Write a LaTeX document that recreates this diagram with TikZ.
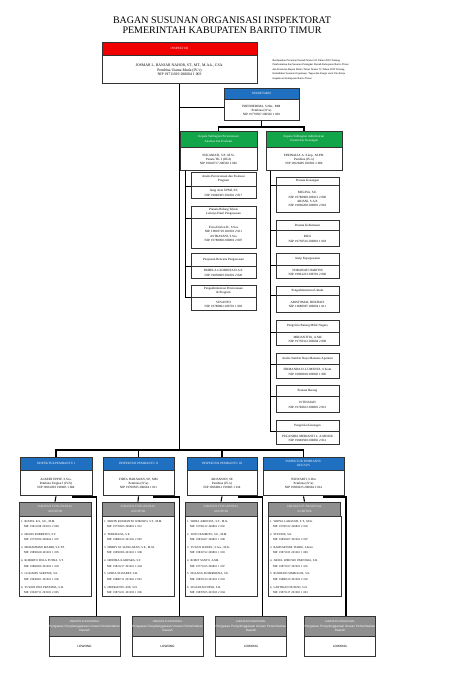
\documentclass[tikz,border=0pt]{standalone}
\usepackage{fontspec}
\setmainfont{Liberation Serif}
\setsansfont{Liberation Sans}
\usetikzlibrary{positioning}
\definecolor{insred}{HTML}{F00000}
\definecolor{pemblue}{HTML}{1F70C1}
\definecolor{subgreen}{HTML}{12A54A}
\definecolor{jfgray}{HTML}{8F8F8F}
\definecolor{boxline}{HTML}{333333}
\newcommand{\bxfont}{\fontsize{3.8}{4.7}\selectfont}
\newcommand{\smfont}{\fontsize{3.2}{4.3}\selectfont}
\newcommand{\lsfont}{\fontsize{2.9}{5.3}\selectfont}
\newcommand{\ntfont}{\fontsize{2.7}{4.4}\selectfont}

\begin{document}
\begin{tikzpicture}[x=1pt,y=-1pt,
  hdr/.style={draw=boxline, line width=0.9pt, inner sep=0pt, align=center, font=\smfont},
  bdy/.style={draw=boxline, line width=0.9pt, fill=white, inner sep=0pt, align=center, font=\smfont},
  lst/.style={draw=boxline, line width=0.9pt, fill=white, inner xsep=2pt, inner ysep=0pt, align=left, font=\lsfont},
  edge/.style={line width=1.1pt},
  lab/.style={font=\fontsize{10}{10.4}\selectfont, align=center}]
\useasboundingbox (0,0) rectangle (474,678);
%%%%%%%%%%%%%%%%%%%%%%%%%%%%%%%%%%%%%%%%%%%%%%%%%%
% title and inspektur
%%%%%%%%%%%%%%%%%%%%%%%%%%%%%%%%%%%%%%%%%%%%%%%%%%
\node[lab] (title) at (222,25) {BAGAN SUSUNAN ORGANISASI INSPEKTORAT\\PEMERINTAH KABUPATEN BARITO TIMUR};

\node[hdr, fill=insred, text=white, minimum width=155, minimum height=13] (insh) at (179.5,48.5) {INSPEKTUR};
\node[bdy, font=\bxfont, minimum width=155, minimum height=28, below=0pt of insh] (insb)
  {JOSMAR L. BANJAR NAHOR, ST., MT., M.A.k., CSA.\\Pembina Utama Muda (IV/c)\\NIP 19711019 200604 1 003};

\node[font=\ntfont, align=left, anchor=north west] (note) at (269,56)
  {Berdasarkan Peraturan Daerah Nomor 03 Tahun 2020 Tentang\\
   Pembentukan dan Susunan Perangkat Daerah Kabupaten Barito Timur\\
   dan Peraturan Bupati Barito Timur Nomor 51 Tahun 2020 Tentang\\
   Kedudukan Susunan Organisasi, Tugas dan Fungsi serta Tata Kerja\\
   Inspektorat Kabupaten Barito Timur};
%%%%%%%%%%%%%%%%%%%%%%%%%%%%%%%%%%%%%%%%%%%%%%%%%%
% sekretariat
%%%%%%%%%%%%%%%%%%%%%%%%%%%%%%%%%%%%%%%%%%%%%%%%%%
\begin{scope}
  \node[hdr, fill=pemblue, text=white, minimum width=75, minimum height=11] (sekh) at (261.5,93.5) {SEKRETARIS};
  \node[bdy, minimum width=75, minimum height=21, below=0pt of sekh] (sekb)
    {PRENDEDIMA, S.Hut., MM\\Pembina (IV/a)\\NIP 19770507 200502 1 003};

  \node[hdr, fill=subgreen, text=white, minimum width=77, minimum height=16] (g1h) at (218.5,139)
    {Kepala Subbagian Perencanaan\\Analisis dan Evaluasi};
  \node[bdy, minimum width=77, minimum height=23, below=0pt of g1h] (g1b)
    {SUKANIATI, S.P., M.Si.\\Penata TK. I (III/d)\\NIP 19620717 200502 2 002};
  \node[hdr, fill=subgreen, text=white, minimum width=76, minimum height=16] (g2h) at (304,139)
    {Kepala Subbagian Administrasi\\Umum dan Keuangan};
  \node[bdy, minimum width=76, minimum height=23, below=0pt of g2h] (g2b)
    {EPRINALIA A. S.kep., M.P.H.\\Pembina (IV/a)\\NIP 19620405 200502 2 006};

  \coordinate (sj) at (261.5,127);
  \draw[edge] ([yshift=3pt]sekb.west) -- ([yshift=3pt]sekb.west -| insb.south);
  \draw[edge] (sekb.south) -- (sj);
  \draw[edge] (g1h.north) |- (sj) -| (g2h.north);
\end{scope}
%%%%%%%%%%%%%%%%%%%%%%%%%%%%%%%%%%%%%%%%%%%%%%%%%%
% perencanaan (left column)
%%%%%%%%%%%%%%%%%%%%%%%%%%%%%%%%%%%%%%%%%%%%%%%%%%
\begin{scope}
  \node[hdr, minimum width=65, minimum height=14] (l1h) at (223.5,179) {Analis Perencanaan dan Evaluasi\\Program};
  \node[bdy, minimum width=65, minimum height=12, below=0pt of l1h] (l1b) {Jiang Anie UPMI, SE\\NIP. 19840305 201001 2 017};

  \node[hdr, minimum width=65, minimum height=12] (l2h) at (223.5,212) {Pranata Bidang Teknis\\Lainnya Hasil Pengawasan};
  \node[bdy, minimum width=65, minimum height=30, below=0pt of l2h] (l2b)
    {Erica Dorlen D., S.Sos\\NIP. 19810729 201001 2 011\\ASTRAYANI, S.Sos\\NIP. 19780908 200801 2 007};

  \node[hdr, minimum width=65, minimum height=13] (l3h) at (223.5,259.5) {Penyusun Rencana Pengawasan};
  \node[bdy, minimum width=65, minimum height=12, below=0pt of l3h] (l3b) {PAMELA GLORIOSA D.A.S.\\NIP. 19850609 201001 2 020};

  \node[hdr, minimum width=65, minimum height=12] (l4h) at (223.5,291) {Pengadministrasi Perencanaan\\\& Program};
  \node[bdy, minimum width=65, minimum height=13, below=0pt of l4h] (l4b) {SUSANTO\\NIP. 19780802 200701 1 002};

  \foreach \b in {l1,l2,l3,l4}
    \draw[edge] ([xshift=6pt]g1b.south west) |- (\b h.south west);
\end{scope}
%%%%%%%%%%%%%%%%%%%%%%%%%%%%%%%%%%%%%%%%%%%%%%%%%%
% umum dan keuangan (right column)
%%%%%%%%%%%%%%%%%%%%%%%%%%%%%%%%%%%%%%%%%%%%%%%%%%
\begin{scope}
  \node[hdr, minimum width=63, minimum height=8] (r1h) at (307.5,181) {Pranata Keuangan};
  \node[bdy, minimum width=63, minimum height=27, below=0pt of r1h] (r1b)
    {MELINA, S.E.\\NIP. 19780908 200212 2 006\\ARIANI, S.A.P.\\NIP. 19860208 200801 2 018};

  \node[hdr, minimum width=63, minimum height=10] (r2h) at (307.5,225) {Pranata Kehumasan};
  \node[bdy, minimum width=63, minimum height=16, below=0pt of r2h] (r2b) {RIZA\\NIP. 19730516 200801 1 018};

  \node[hdr, minimum width=63, minimum height=12] (r3h) at (307.5,259) {Arsip Kepegawaian};
  \node[bdy, minimum width=63, minimum height=13, below=0pt of r3h] (r3b) {NORAWATI HARITNI\\NIP. 19861223 200701 2 006};

  \node[hdr, minimum width=63, minimum height=9] (r4h) at (307.5,290.5) {Pengadministrasi Umum};
  \node[bdy, minimum width=63, minimum height=17, below=0pt of r4h] (r4b) {ARISTOMAL BOKHAIS\\NIP. 19680907 200604 1 011};

  \node[hdr, minimum width=63, minimum height=12] (r5h) at (307.5,326) {Pengelola Barang Milik Negara};
  \node[bdy, minimum width=63, minimum height=13, below=0pt of r5h] (r5b) {MIRIANTITA, A.Md\\NIP. 19750322 200604 2 009};

  \node[hdr, minimum width=63, minimum height=11] (r6h) at (307.5,358.5) {Analis Sumber Daya Manusia Aparatur};
  \node[bdy, minimum width=63, minimum height=14, below=0pt of r6h] (r6b) {FIRMANDA D. LUMENTA, S.Kom\\NIP. 19860818 200902 1 005};

  \node[hdr, minimum width=63, minimum height=11] (r7h) at (307.5,390.5) {Pranata Barang};
  \node[bdy, minimum width=63, minimum height=16, below=0pt of r7h] (r7b) {ISTINAIAH\\NIP. 19740812 200801 2 012};

  \node[hdr, minimum width=63, minimum height=11] (r8h) at (307.5,425.5) {Pengelola Keuangan};
  \node[bdy, minimum width=63, minimum height=13, below=0pt of r8h] (r8b) {PULANDIA MERIANTI L. A.MD.KB\\NIP. 19840508 200802 2 012};

  \foreach \b in {r1,r2,r3,r4,r5,r6,r7,r8}
    \draw[edge] ([xshift=5pt]g2b.south west) |- (\b h.south west);
\end{scope}
%%%%%%%%%%%%%%%%%%%%%%%%%%%%%%%%%%%%%%%%%%%%%%%%%%
% inspektur pembantu
%%%%%%%%%%%%%%%%%%%%%%%%%%%%%%%%%%%%%%%%%%%%%%%%%%
\begin{scope}
  \node[hdr, fill=pemblue, text=white, minimum width=72, minimum height=13] (p1h) at (56,463.5) {INSPEKTUR PEMBANTU I};
  \node[bdy, minimum width=72, minimum height=25, below=0pt of p1h] (p1b)
    {ALBERT EPPIE, S.Sos.\\Pembina Tingkat I (IV/b)\\NIP 19661003 198603 1 004};
  \node[hdr, fill=pemblue, text=white, minimum width=71, minimum height=13] (p2h) at (138.5,463.5) {INSPEKTUR PEMBANTU II};
  \node[bdy, minimum width=71, minimum height=25, below=0pt of p2h] (p2b)
    {FIRTA HARAWAN, SP., MM\\Pembina (IV/a)\\NIP 19700505 200604 1 011};
  \node[hdr, fill=pemblue, text=white, minimum width=70, minimum height=13] (p3h) at (222,463.5) {INSPEKTUR PEMBANTU III};
  \node[bdy, minimum width=70, minimum height=25, below=0pt of p3h] (p3b)
    {ARIANSON, SE\\Pembina (IV/a)\\NIP 19660812 199603 1 014};
  \node[hdr, fill=pemblue, text=white, minimum width=81, minimum height=13] (p4h) at (303.5,463.5) {INSPEKTUR PEMBANTU\\KHUSUS};
  \node[bdy, minimum width=81, minimum height=25, below=0pt of p4h] (p4b)
    {WIDYARTI, S.Hut\\Pembina (IV/a)\\NIP 19830225 200604 2 014};

  \coordinate (bar) at (179.5,450);
  \draw[edge] (insb.south) -- (bar);
  \draw[edge] (p1h.north) -- (p1h.north |- bar) -- (p4h.north |- bar) -- (p4h.north);
  \draw[edge] (p2h.north) -- (p2h.north |- bar);
  \draw[edge] (p3h.north) -- (p3h.north |- bar);
\end{scope}
%%%%%%%%%%%%%%%%%%%%%%%%%%%%%%%%%%%%%%%%%%%%%%%%%%
% jabatan fungsional auditor
%%%%%%%%%%%%%%%%%%%%%%%%%%%%%%%%%%%%%%%%%%%%%%%%%%
\begin{scope}
  \foreach \b/\x in {a1/55,a2/138,a3/221,a4/304.5}
    \node[hdr, fill=jfgray, text=white!90!gray, minimum width=72, minimum height=14] (\b h) at (\x,509)
      {JABATAN FUNGSIONAL\\AUDITOR};

  \node[lst, text width=68, minimum height=80, below=0pt of a1h] (a1b)
    {1. RIATUL K.S, S.E., M.M.\\\quad NIP. 19811228 201001 2 008\\[2.6pt]
     2. FRANS ROBERTUS, S.T.\\\quad NIP. 19770926 200604 1 007\\[2.6pt]
     3. MUHAMMAD RIADHI, S.S.T.P.\\\quad NIP. 19890628 201001 1 005\\[2.6pt]
     4. ROBERTO DOLA PUTRA, S.T.\\\quad NIP. 19860906 201002 1 003\\[2.6pt]
     5. GOLIADIS SURYANI, S.E.\\\quad NIP. 19830601 201001 1 006\\[2.6pt]
     6. YULIEN DWI PRATAMA, S.H.\\\quad NIP. 19920711 201903 2 005};
  \node[lst, text width=68, minimum height=80, below=0pt of a2h] (a2b)
    {1. ERWIN RUSMANTO WIBOWO, S.T., M.M.\\\quad NIP. 19770605 200801 1 012\\[2.6pt]
     2. TERESIANA, S.E.\\\quad NIP. 19880102 201102 2 009\\[2.6pt]
     3. DEBBY M. SIANGARAN, S.E., M.M.\\\quad NIP. 19850906 201001 1 008\\[2.6pt]
     4. HENDRA KASIPARA, S.T.\\\quad NIP. 19821217 201001 1 004\\[2.6pt]
     5. LINDA ELISABET, S.H.\\\quad NIP. 19880711 201902 2 003\\[2.6pt]
     6. HENRIANTO ADI, S.H.\\\quad NIP. 19871221 201903 1 006};
  \node[lst, text width=68, minimum height=80, below=0pt of a3h] (a3b)
    {1. WIDIA ARDIONA, S.T., M.Si.\\\quad NIP. 19790122 200801 2 002\\[2.6pt]
     2. ANTO BAHRITO, S.E., M.M.\\\quad NIP. 19810407 200801 1 008\\[2.6pt]
     3. YULIUS DANIEL, S.Sos., M.Si.\\\quad NIP. 19810722 200801 1 018\\[2.6pt]
     4. ROBIT SANTO, A.Md.\\\quad NIP. 19771015 200801 1 007\\[2.6pt]
     5. DOLANA SUMERWENA, S.E.\\\quad NIP. 19870210 201001 2 003\\[2.6pt]
     6. SUGIANAH DEWI, S.H.\\\quad NIP. 19870505 201903 2 004};
  \node[lst, text width=69, minimum height=80, below=0pt of a4h] (a4b)
    {1. WIDYA LARASATI, S.T., M.Si.\\\quad NIP. 19790312 200801 2 002\\[2.6pt]
     2. STEVANI, S.E.\\\quad NIP. 19850407 201001 2 007\\[2.6pt]
     3. RAMSAFINAR TIARIE, S.Kom.\\\quad NIP. 19871105 201001 1 008\\[2.6pt]
     4. ARSEL WIBOWO PARNAWA, S.H.\\\quad NIP. 19871017 201901 1 001\\[2.6pt]
     5. RUSDIANI SIMBOLON, S.E.\\\quad NIP. 19880519 201902 2 002\\[2.6pt]
     6. LANTIKAN DUSUNI, S.H.\\\quad NIP. 19871127 201903 1 003};

  \foreach \b in {1,2,3,4}
    \draw[edge] (p\b h.north |- p\b b.south) -- (a\b h.north);
\end{scope}
%%%%%%%%%%%%%%%%%%%%%%%%%%%%%%%%%%%%%%%%%%%%%%%%%%
% jabatan fungsional ppupd
%%%%%%%%%%%%%%%%%%%%%%%%%%%%%%%%%%%%%%%%%%%%%%%%%%
\begin{scope}
  \foreach \b/\x in {1/84.5,2/167.5,3/251,4/340}{
    \node[hdr, fill=jfgray, text=white, font=\sffamily\fontsize{2.7}{3.8}\selectfont, minimum width=71, minimum height=20] (b\b h) at (\x,626)
      {JABATAN FUNGSIONAL\\[1.5pt]{\fontsize{3.1}{3.8}\selectfont Pengawas Penyelenggaraan Urusan Pemerintahan}\\{\fontsize{3.1}{3.8}\selectfont Daerah}};
    \node[bdy, font=\sffamily\fontsize{3.1}{3.8}\selectfont, minimum width=71, minimum height=20, below=0pt of b\b h] (b\b b) {LOWONG};
  }

  \coordinate (k1) at (96.5,497);
  \coordinate (k2) at (179.5,497);
  \coordinate (k3) at (262.5,497);
  \coordinate (k4) at (346,497);
  \draw[edge] ([xshift=17pt]p1b.south) |- (k1) -- (k1 |- b1h.north);
  \draw[edge] ([xshift=15pt]p2b.south) |- (k2) -- (k2 |- b2h.north);
  \draw[edge] ([xshift=17pt]p3b.south) |- (k3) -- (k3 |- b3h.north);
  \draw[edge] ([xshift=20pt]p4b.south) |- (k4) -- (k4 |- b4h.north);
\end{scope}
\end{tikzpicture}
\end{document}
